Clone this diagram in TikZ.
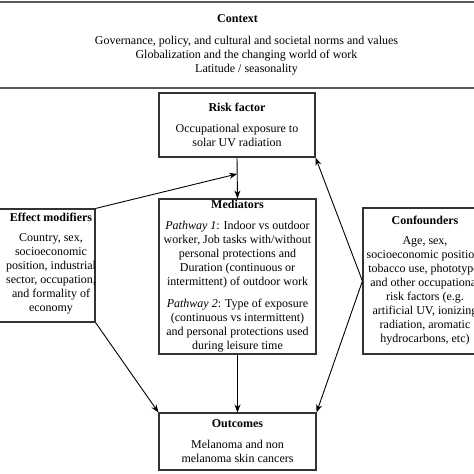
\documentclass[tikz,border=0pt]{standalone}
\usepackage{fontspec}
\setmainfont{Liberation Serif}
\usetikzlibrary{arrows.meta,calc}
\begin{document}
\begin{tikzpicture}[x=1pt,y=-1pt,
  box/.style={draw=black!80,line width=1.1pt,fill=white,inner sep=0pt},
  txt/.style={align=center,inner sep=0pt,font=\fontsize{12}{14}\selectfont},
  conn/.style={draw=black,line width=0.9pt},
  arr/.style={conn,-{Stealth[length=8pt,width=6pt]}}]
\clip (0,0) rectangle (474,474);
\fill[white] (0,0) rectangle (474,474);
% context
\node[draw=black!65,line width=2pt,minimum width=520pt,minimum height=86pt,inner sep=0pt] (ctxbox) at (237,45) {};
\node[align=center,inner sep=0pt,font=\fontsize{12}{14}\selectfont] (ctx) at (246.5,45)
  {\hspace*{-18pt}\textbf{Context}\\[8pt]Governance, policy, and cultural and societal norms and values\\Globalization and the changing world of work\\Latitude / seasonality};
% risk factor
\node[box,minimum width=156pt,minimum height=64pt,txt] (rf) at (237,125)
  {\textbf{Risk factor}\\[7pt]Occupational exposure to\\solar UV radiation};
% mediators
\node[box,minimum width=157pt,minimum height=155pt,txt] (med) at (237.5,276.5)
  {\textbf{Mediators}\\[7pt]\textit{Pathway 1}: Indoor vs outdoor\\worker, Job tasks with/without\\personal protections and\\Duration (continuous or\\intermittent) of outdoor work\\[8pt]\textit{Pathway 2}: Type of exposure\\(continuous vs intermittent)\\and personal protections used\\during leisure time};
% outcomes
\node[box,minimum width=157pt,minimum height=57pt,txt] (out) at (237.5,441.5)
  {\textbf{Outcomes}\\[7pt]Melanoma and non\\melanoma skin cancers};
% effect modifiers
\node[box,minimum width=135pt,minimum height=113pt] (em) at (27.5,265.5) {};
\node[txt] (emt) at (51,264)
  {\textbf{Effect modifiers}\\[6pt]Country, sex,\\socioeconomic\\position, industrial\\sector, occupation,\\and formality of\\economy};
% confounders
\node[box,minimum width=124pt,minimum height=146pt,txt] (cf) at (425,281)
  {\textbf{Confounders}\\[6pt]Age, sex,\\socioeconomic position,\\tobacco use, phototype,\\and other occupational\\risk factors (e.g.\\artificial UV, ionizing\\radiation, aromatic\\hydrocarbons, etc)};
% connectors
\coordinate (j) at ($(rf.south)!0.4!(med.north)$);
\draw[arr] (rf.south) -- (med.north);
\draw[arr] (em.north east) -- (j);
\draw[arr] (em.south east) -- (out.north west);
\draw[arr] (med.south) -- (out.north);
\draw[arr] (cf.west) -- (rf.south east);
\draw[arr] (cf.west) -- (out.north east);
\end{tikzpicture}
\end{document}
